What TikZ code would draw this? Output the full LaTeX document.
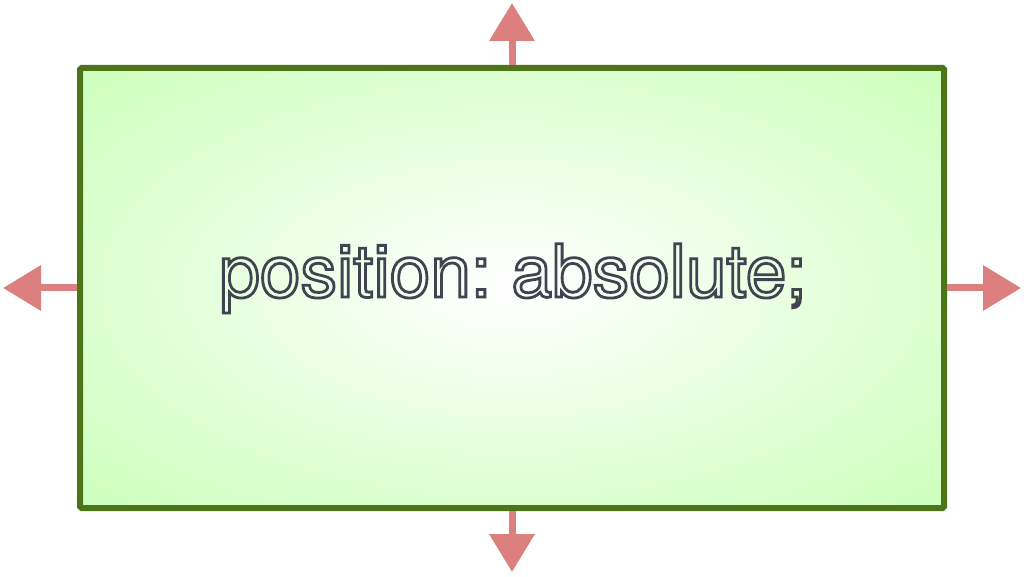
\documentclass[tikz,border=0pt]{standalone}
\usepackage{fontspec}
\setmainfont{TeX Gyre Heros}
\usepackage{xcolor}
\usetikzlibrary{positioning, arrows.meta}
\definecolor{absGreen}{RGB}{78, 116, 25}
\definecolor{absFill}{RGB}{204, 255, 187}
\definecolor{absRed}{RGB}{220, 127, 127}
\definecolor{absInk}{RGB}{64, 68, 80}
\pgfdeclareradialshading{absGlow}{\pgfpoint{0bp}{0bp}}{%
  color(0bp)=(white); color(35.4bp)=(absFill); color(50bp)=(absFill)}
\newcommand{\hollow}[1]{%
  {\color{absInk}\special{pdf:literal direct 1 Tr 2.8 w}#1\special{pdf:literal direct 0 Tr}}}
\tikzset{
    frame/.style={
        rectangle,
        rounded corners=1.5pt,
        draw=absGreen,
        line width=6pt,
        shading=absGlow,
        minimum width=864pt,
        minimum height=440pt
    },
    push/.style={
        -{Triangle[length=38pt, width=44pt]},
        line width=7pt,
        color=absRed
    },
    caption/.style={
        font=\fontsize{73}{80}\selectfont\frenchspacing,
        inner sep=0pt
    }
}
\begin{document}
\begin{tikzpicture}[x=1pt, y=1pt]
  \useasboundingbox (0,0) rectangle (1024,576);

  % Box
  \node[frame] (box) at (512,288) {};

  % Arrow tips
  \coordinate (tipN) at (512,573);
  \coordinate (tipS) at (512,4);
  \coordinate (tipW) at (3,288);
  \coordinate (tipE) at (1021,288);

  % Arrows
  \draw[push] (box.north) -- (tipN);
  \draw[push] (box.south) -- (tipS);
  \draw[push] (box.west) -- (tipW);
  \draw[push] (box.east) -- (tipE);

  % Label
  \node[caption, anchor=base] (label) at (513,279) {\hollow{position: absolute;}};
\end{tikzpicture}
\end{document}
